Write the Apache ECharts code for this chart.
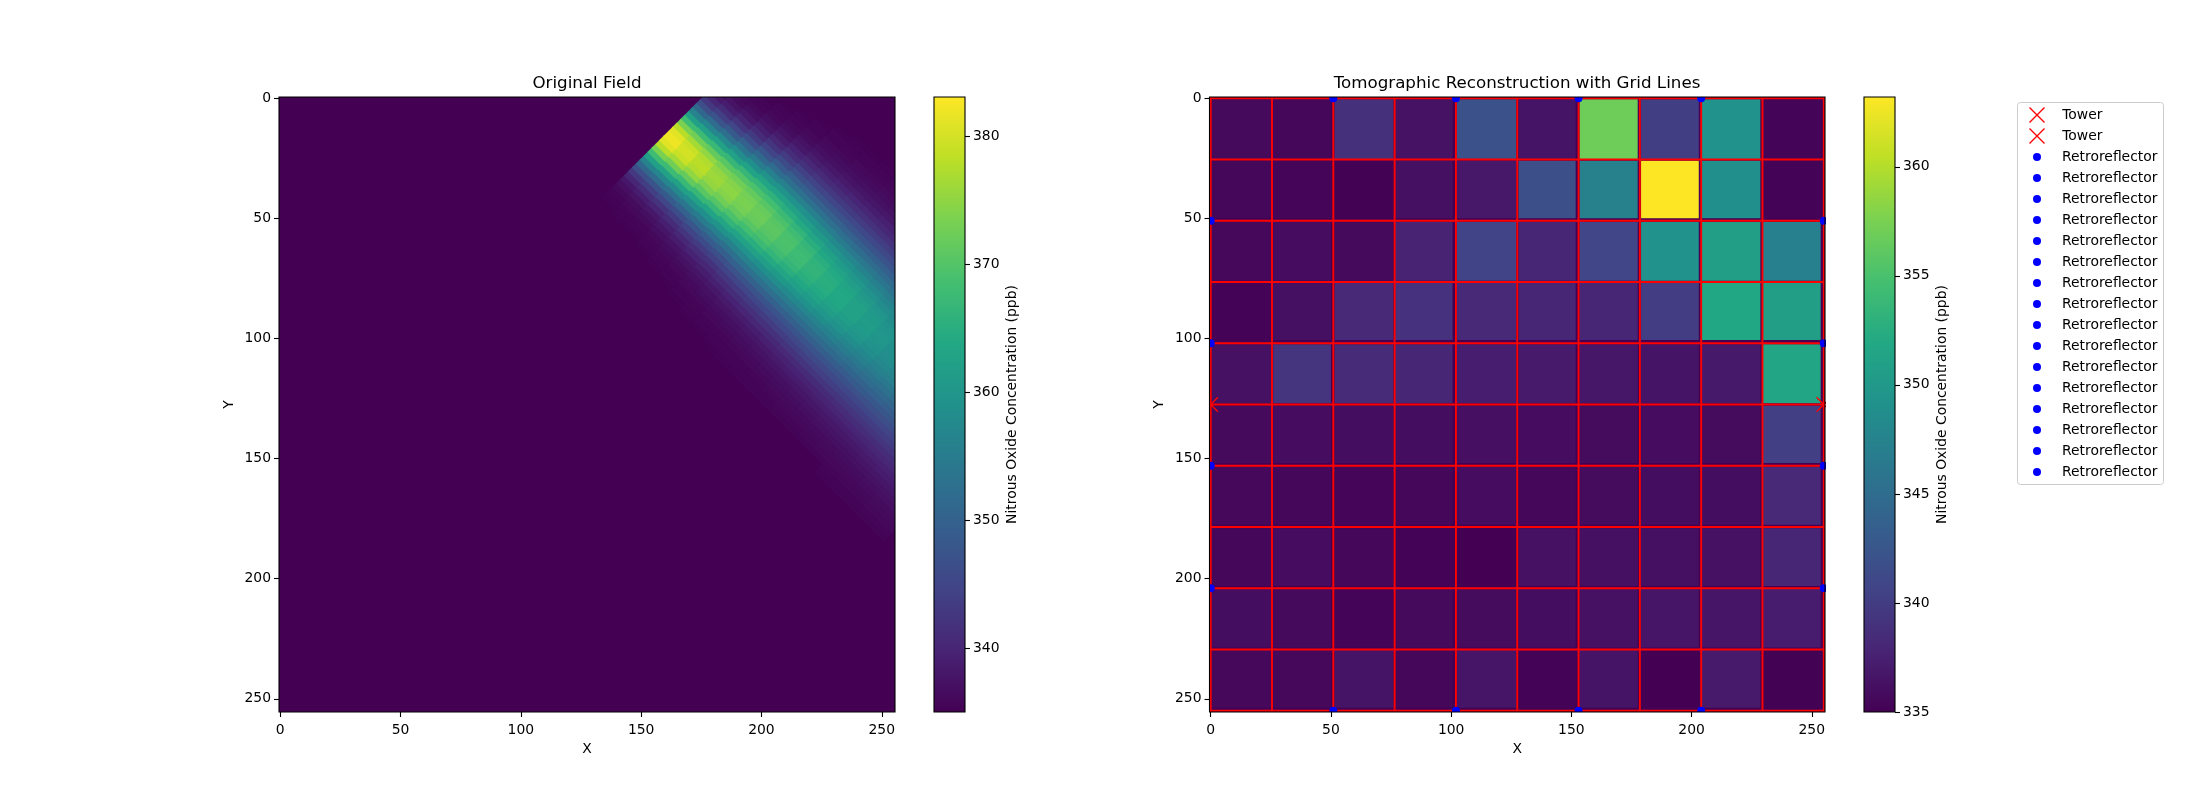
<!DOCTYPE html>
<html>
<head>
<meta charset="utf-8">
<title>Tomographic Reconstruction</title>
<script src="https://cdn.jsdelivr.net/npm/echarts@6/dist/echarts.min.js"></script>
<style>
    html, body { margin: 0; padding: 0; background: #fff; }
    #main { width: 2200px; height: 800px; }
</style>
</head>
<body>
<div id="main"></div>
<script>
// 左图：烟羽读图估计值。每行是一个顺风距离段，行内从羽流中心线向两侧每 plumeStep 个单位一个值
var plumeEdges = [0, 8, 16, 24, 32, 40, 48, 56, 64, 72, 80, 88, 96, 104, 112, 120, 128, 136, 144, 152, 160, 168, 176, 184];
var plumeCenters = [145.7, 146.1, 146.7, 147.5, 148.4, 149.3, 150, 150, 150, 150, 150, 150, 150, 150, 150, 150, 150, 150, 150, 150, 150, 150, 150];
var plumeProfiles = [
    [382, 381, 378, 373.5, 368, 362, 356.2, 350.9, 346.4, 342.8, 340.1, 338.2, 336.9, 336.1, 335.6, 335.3, 335.2],
    [380, 379.1, 376.5, 372.6, 367.7, 362.3, 356.9, 351.9, 347.5, 343.9, 341.1, 339, 337.5, 336.5, 335.9, 335.5, 335.3, 335.2],
    [378.1, 377.3, 375.1, 371.6, 367.2, 362.4, 357.4, 352.7, 348.5, 344.9, 342, 339.8, 338.2, 337, 336.2, 335.7, 335.4, 335.2],
    [376, 375.3, 373.5, 370.5, 366.8, 362.5, 358.1, 353.8, 349.8, 346.3, 343.3, 340.9, 339.1, 337.8, 336.8, 336.1, 335.7, 335.4, 335.2],
    [374.8, 374.2, 372.6, 370.1, 366.8, 362.9, 358.9, 354.9, 351.1, 347.7, 344.7, 342.2, 340.2, 338.7, 337.5, 336.7, 336.1, 335.7, 335.4, 335.2],
    [373.4, 372.9, 371.5, 369.3, 366.4, 363, 359.4, 355.7, 352.1, 348.8, 345.9, 343.4, 341.3, 339.6, 338.2, 337.3, 336.5, 336, 335.6, 335.4, 335.2],
    [372.1, 371.7, 370.4, 368.4, 365.8, 362.7, 359.4, 356, 352.6, 349.4, 346.6, 344.1, 341.9, 340.2, 338.8, 337.7, 336.9, 336.3, 335.9, 335.6, 335.4, 335.2],
    [370.8, 370.4, 369.3, 367.5, 365.1, 362.3, 359.3, 356.1, 352.9, 349.9, 347.1, 344.7, 342.6, 340.8, 339.3, 338.1, 337.2, 336.6, 336.1, 335.7, 335.5, 335.3, 335.2],
    [369.3, 369, 367.9, 366.3, 364.1, 361.6, 358.8, 355.8, 352.8, 350, 347.3, 345, 342.9, 341.1, 339.6, 338.5, 337.5, 336.8, 336.3, 335.9, 335.6, 335.4, 335.2],
    [367.8, 367.5, 366.6, 365.1, 363.1, 360.8, 358.2, 355.4, 352.7, 350, 347.5, 345.2, 343.2, 341.4, 340, 338.7, 337.8, 337, 336.4, 336, 335.7, 335.5, 335.3, 335.2],
    [366.2, 365.9, 365.1, 363.7, 362, 359.8, 357.5, 354.9, 352.4, 349.9, 347.5, 345.3, 343.4, 341.7, 340.2, 339, 338, 337.2, 336.6, 336.2, 335.8, 335.6, 335.4, 335.3],
    [365, 364.7, 364, 362.7, 361.1, 359.1, 356.9, 354.5, 352.1, 349.7, 347.5, 345.4, 343.5, 341.8, 340.4, 339.2, 338.2, 337.4, 336.8, 336.3, 335.9, 335.6, 335.4, 335.3],
    [363.8, 363.6, 362.8, 361.7, 360.2, 358.4, 356.3, 354.2, 351.9, 349.7, 347.5, 345.5, 343.7, 342.1, 340.6, 339.4, 338.4, 337.6, 336.9, 336.4, 336, 335.7, 335.5, 335.4],
    [362.5, 362.3, 361.6, 360.6, 359.2, 357.6, 355.7, 353.7, 351.6, 349.5, 347.5, 345.6, 343.8, 342.2, 340.8, 339.6, 338.6, 337.8, 337.1, 336.6, 336.2, 335.8, 335.6, 335.4],
    [361.3, 361.1, 360.5, 359.6, 358.3, 356.7, 355, 353.1, 351.1, 349.2, 347.3, 345.5, 343.8, 342.3, 340.9, 339.7, 338.7, 337.9, 337.2, 336.7, 336.2, 335.9, 335.7, 335.5],
    [360, 359.8, 359.3, 358.4, 357.2, 355.8, 354.2, 352.4, 350.6, 348.8, 347, 345.3, 343.7, 342.2, 340.9, 339.8, 338.8, 338, 337.3, 336.8, 336.3, 336, 335.7, 335.5],
    [358.8, 358.6, 358.1, 357.3, 356.3, 355, 353.5, 351.9, 350.2, 348.5, 346.8, 345.2, 343.7, 342.3, 341, 339.9, 339, 338.1, 337.5, 336.9, 336.4, 336.1, 335.8, 335.6],
    [357.8, 357.6, 357.2, 356.5, 355.5, 354.3, 352.9, 351.4, 349.8, 348.2, 346.6, 345.1, 343.6, 342.3, 341.1, 340, 339, 338.2, 337.6, 337, 336.5, 336.2, 335.9, 335.6],
    [356.9, 356.8, 356.3, 355.6, 354.7, 353.5, 352.2, 350.8, 349.3, 347.8, 346.4, 344.9, 343.6, 342.3, 341.1, 340.1, 339.1, 338.3, 337.6, 337.1, 336.6, 336.2, 335.9, 335.7, 335.5, 335.3],
    [356, 355.9, 355.5, 354.8, 354, 352.9, 351.7, 350.4, 349, 347.6, 346.2, 344.8, 343.6, 342.3, 341.2, 340.2, 339.3, 338.5, 337.8, 337.2, 336.7, 336.3, 336, 335.8, 335.6, 335.4],
    [355.2, 355.1, 354.7, 354.1, 353.3, 352.3, 351.2, 350, 348.7, 347.4, 346, 344.7, 343.5, 342.3, 341.2, 340.2, 339.3, 338.6, 337.9, 337.3, 336.8, 336.4, 336.1, 335.8, 335.6, 335.5],
    [354.4, 354.3, 354, 353.4, 352.7, 351.8, 350.7, 349.6, 348.4, 347.1, 345.8, 344.6, 343.4, 342.2, 341.2, 340.2, 339.3, 338.6, 338, 337.4, 336.9, 336.5, 336.2, 335.9, 335.7, 335.5],
    [353.6, 353.5, 353.2, 352.7, 352, 351.1, 350.2, 349.1, 348, 346.8, 345.6, 344.4, 343.2, 342.1, 341.1, 340.2, 339.3, 338.6, 338, 337.4, 336.9, 336.5, 336.2, 335.9, 335.7, 335.5]
];

// 右图：10x10 重建结果
var reconRows = [
    [335.7, 335.5, 338.9, 336.4, 342, 336.5, 356.9, 340.1, 349.2, 335.3],
    [335.5, 335.4, 335.1, 336.2, 336.8, 341.8, 347.3, 363.2, 349, 335.2],
    [335.6, 335.9, 335.7, 337.7, 340.6, 338, 340.9, 349.2, 350.7, 347.2],
    [335.2, 336.2, 338.3, 339, 338.3, 338, 338, 340, 351.8, 350.7],
    [336.3, 339.3, 338.4, 338, 337.3, 337, 336.7, 336.5, 336.9, 351.6],
    [335.7, 335.9, 336, 336, 336.1, 335.9, 335.8, 335.9, 335.8, 340.2],
    [335.6, 335.5, 335.4, 335.5, 335.9, 335.5, 335.8, 336, 336, 338.3],
    [335.5, 335.9, 335.5, 335.2, 335, 336.3, 336.2, 336.2, 336.3, 338],
    [336, 335.7, 335.3, 335.7, 335.8, 336, 336.3, 336.6, 336.6, 337.2],
    [335.6, 335.6, 336.5, 335.5, 336.6, 335.2, 336.5, 335, 337, 335.1]
];
var cellStarts = [0.4, 26, 51.5, 76.5, 102.4, 128, 153.4, 179, 204.2, 229.6];
var cellEnds = [25.4, 50, 76, 100.6, 127, 151.8, 177.6, 203, 228.6, 253.7];
var gridLines = [0, 25.5, 51, 76.5, 102, 127.5, 153, 178.5, 204, 229.5, 255];

// 塔和反射器位置
var towerX = [0, 255];
var towerY = [127.5, 127.5];
var retroX = [51, 102, 153, 204, 51, 102, 153, 204, 0, 0, 0, 0, 255, 255, 255, 255];
var retroY = [0, 0, 0, 0, 255, 255, 255, 255, 51, 102, 153, 204, 51, 102, 153, 204];

// 刻度
var axisTicks = [0, 50, 100, 150, 200, 250];
var fieldBarTicks = [340, 350, 360, 370, 380];
var reconBarTicks = [335, 340, 345, 350, 355, 360];
var legendLabels = ['Tower', 'Tower', 'Retroreflector', 'Retroreflector', 'Retroreflector', 'Retroreflector',
    'Retroreflector', 'Retroreflector', 'Retroreflector', 'Retroreflector', 'Retroreflector', 'Retroreflector',
    'Retroreflector', 'Retroreflector', 'Retroreflector', 'Retroreflector', 'Retroreflector', 'Retroreflector'];

var viridis = ['#440154', '#482475', '#414487', '#355f8d', '#2a788e', '#21918c', '#22a884', '#44bf70', '#7ad151', '#bddf26', '#fde725'];
var fontName = '"DejaVu Sans"';
var imgMin = -0.5;
var imgMax = 255.5;
var fieldRange = [335, 383.1];
var reconRange = [335, 363.2];
var crossPath = 'path://M0 0L10 10M10 0L0 10';
var plumeStep = 2.3;
var plumeSource = 175;  // 源线 x + y
var plumeOverlap = 0.6; // 相邻格子压一点，免得露出底色的缝

// 从两侧往中心画，顺风方向从近到远，后画的压住先画的
var fieldData = [];
for (var c = 25; c >= 0; c--) {
    for (var r = 0; r < plumeProfiles.length; r++) {
        if (c < plumeProfiles[r].length) {
            fieldData.push([r, c, plumeProfiles[r][c]]);
            if (c > 0) {
                fieldData.push([r, -c, plumeProfiles[r][c]]);
            }
        }
    }
}
var reconData = [];
for (var m = 0; m < reconRows.length; m++) {
    for (var n = 0; n < reconRows[m].length; n++) {
        reconData.push([n, m, reconRows[m][n]]);
    }
}

// 顺风/横风距离转成数据坐标
function plumePoint(api, center, s, w) {
    var u = plumeSource + s * Math.SQRT2;
    var v = center + w * Math.SQRT2;
    return api.coord([(u + v) / 2, (u - v) / 2]);
}

function renderPlumeCell(params, api) {
    var k = api.value(0);
    var offset = api.value(1);
    var w0 = (offset - 0.5) * plumeStep;
    var w1 = (offset + 0.5) * plumeStep;
    if (offset >= 0) {
        w1 += plumeOverlap;
    }
    if (offset <= 0) {
        w0 -= plumeOverlap;
    }
    var s0 = k > 0 ? plumeEdges[k] - plumeOverlap : plumeEdges[k];
    var s1 = plumeEdges[k + 1];
    var center = plumeCenters[k];
    return {
        type: 'polygon',
        shape: {
            points: [
                plumePoint(api, center, s0, w0),
                plumePoint(api, center, s1, w0),
                plumePoint(api, center, s1, w1),
                plumePoint(api, center, s0, w1)
            ]
        },
        style: {fill: api.visual('color')}
    };
}

function renderReconCell(params, api) {
    var col = api.value(0);
    var row = api.value(1);
    var p0 = api.coord([cellStarts[col], cellStarts[row]]);
    var p1 = api.coord([cellEnds[col], cellEnds[row]]);
    return {
        type: 'rect',
        shape: {x: p0[0], y: p0[1], width: p1[0] - p0[0], height: p1[1] - p0[1]},
        style: {fill: api.visual('color')}
    };
}

function frameSeries(axisIndex, x0, y0, x1, y1) {
    return {
        type: 'custom',
        xAxisIndex: axisIndex,
        yAxisIndex: axisIndex,
        silent: true,
        z: 20,
        clip: false,
        data: [[x0, y0, x1, y1]],
        encode: {x: [0, 2], y: [1, 3]},
        renderItem: function (params, api) {
            var p0 = api.coord([api.value(0), api.value(1)]);
            var p1 = api.coord([api.value(2), api.value(3)]);
            return {
                type: 'rect',
                shape: {x: p0[0], y: p0[1], width: p1[0] - p0[0], height: p1[1] - p0[1]},
                style: {fill: 'none', stroke: '#000', lineWidth: 1.1}
            };
        }
    };
}

function colorBarSeries(axisIndex, range) {
    var stops = [];
    for (var i = 0; i < viridis.length; i++) {
        stops.push({offset: i / (viridis.length - 1), color: viridis[i]});
    }
    return {
        type: 'custom',
        xAxisIndex: axisIndex,
        yAxisIndex: axisIndex,
        silent: true,
        data: [[0, range[0], 1, range[1]]],
        encode: {x: [0, 2], y: [1, 3]},
        renderItem: function (params, api) {
            var p0 = api.coord([api.value(0), api.value(3)]);
            var p1 = api.coord([api.value(2), api.value(1)]);
            return {
                type: 'rect',
                shape: {x: p0[0], y: p0[1], width: p1[0] - p0[0], height: p1[1] - p0[1]},
                style: {fill: new echarts.graphic.LinearGradient(0, 1, 0, 0, stops)}
            };
        }
    };
}

function gridLineSeries(axisIndex, vertical) {
    var data = [];
    for (var i = 0; i < gridLines.length; i++) {
        data.push([gridLines[i], i]);
    }
    return {
        type: 'custom',
        xAxisIndex: axisIndex,
        yAxisIndex: axisIndex,
        silent: true,
        clip: true,
        z: 5,
        data: data,
        encode: vertical ? {x: 0} : {y: 0},
        renderItem: function (params, api) {
            var v = api.value(0);
            var p0 = vertical ? api.coord([v, imgMin]) : api.coord([imgMin, v]);
            var p1 = vertical ? api.coord([v, imgMax]) : api.coord([imgMax, v]);
            return {
                type: 'line',
                shape: {x1: p0[0], y1: p0[1], x2: p1[0], y2: p1[1]},
                style: {stroke: '#ff0000', lineWidth: 1.9}
            };
        }
    };
}

function zip(xs, ys) {
    var out = [];
    for (var i = 0; i < xs.length; i++) {
        out.push([xs[i], ys[i]]);
    }
    return out;
}

// scatter 的 clip 不裁符号本身，图内的标记用 custom 画，半个点才会被坐标框切掉
function renderTower(params, api) {
    var p = api.coord([api.value(0), api.value(1)]);
    var r = 7.2;
    return {
        type: 'group',
        children: [
            {type: 'line', shape: {x1: p[0] - r, y1: p[1] - r, x2: p[0] + r, y2: p[1] + r}, style: {stroke: '#ff0000', lineWidth: 1.4}},
            {type: 'line', shape: {x1: p[0] - r, y1: p[1] + r, x2: p[0] + r, y2: p[1] - r}, style: {stroke: '#ff0000', lineWidth: 1.4}}
        ]
    };
}

function renderRetro(params, api) {
    var p = api.coord([api.value(0), api.value(1)]);
    return {
        type: 'circle',
        shape: {cx: p[0], cy: p[1], r: 4},
        style: {fill: '#0000ff'}
    };
}

function imageXAxis(gridIndex) {
    return {
        type: 'value', gridIndex: gridIndex, min: imgMin, max: imgMax,
        name: 'X', nameLocation: 'middle', nameGap: 29,
        nameTextStyle: {color: '#000', fontFamily: fontName, fontSize: 13.9},
        axisLine: {show: false, onZero: false},
        axisTick: {show: true, length: 5, customValues: axisTicks, lineStyle: {color: '#000', width: 1.1}},
        axisLabel: {color: '#000', fontFamily: fontName, fontSize: 13.9, margin: 11, customValues: axisTicks},
        splitLine: {show: false}
    };
}

function imageYAxis(gridIndex) {
    return {
        type: 'value', gridIndex: gridIndex, min: imgMin, max: imgMax, inverse: true,
        name: 'Y', nameLocation: 'middle', nameGap: 43, nameRotate: 90,
        nameTextStyle: {color: '#000', fontFamily: fontName, fontSize: 13.9},
        axisLine: {show: false, onZero: false},
        axisTick: {show: true, length: 5, customValues: axisTicks, lineStyle: {color: '#000', width: 1.1}},
        axisLabel: {color: '#000', fontFamily: fontName, fontSize: 13.9, margin: 8, customValues: axisTicks},
        splitLine: {show: false}
    };
}

function barXAxis(gridIndex) {
    return {type: 'value', gridIndex: gridIndex, min: 0, max: 1, show: false};
}

function barYAxis(gridIndex, range, ticks) {
    return {
        type: 'value', gridIndex: gridIndex, min: range[0], max: range[1], position: 'right',
        name: 'Nitrous Oxide Concentration (ppb)', nameLocation: 'middle', nameGap: 40, nameRotate: 90,
        nameTextStyle: {color: '#000', fontFamily: fontName, fontSize: 13.9},
        axisLine: {show: false, onZero: false},
        axisTick: {show: true, length: 5, customValues: ticks, lineStyle: {color: '#000', width: 1.1}},
        axisLabel: {color: '#000', fontFamily: fontName, fontSize: 13.9, margin: 8, customValues: ticks},
        splitLine: {show: false}
    };
}

// 图例：同名条目 legend 组件会合并，所以用一个小坐标系画
var towerLegend = [];
var retroLegend = [];
for (var k = 0; k < legendLabels.length; k++) {
    if (legendLabels[k] === 'Tower') {
        towerLegend.push([19, k]);
    } else {
        retroLegend.push([19, k]);
    }
}

var chart = echarts.init(document.getElementById('main'));
var option = {
    animation: false,
    backgroundColor: '#fff',
    textStyle: {fontFamily: fontName},
    title: [
        {text: 'Original Field', left: 587, top: 75, padding: 0, textAlign: 'center',
            textStyle: {color: '#000', fontFamily: fontName, fontSize: 16.7, fontWeight: 'normal'}},
        {text: 'Tomographic Reconstruction with Grid Lines', left: 1517, top: 75, padding: 0, textAlign: 'center',
            textStyle: {color: '#000', fontFamily: fontName, fontSize: 16.7, fontWeight: 'normal'}}
    ],
    grid: [
        {left: 279, top: 97, width: 616, height: 615, show: true, backgroundColor: viridis[0], borderWidth: 0},
        {left: 934, top: 97, width: 31, height: 615},
        {left: 1209.5, top: 97, width: 615.5, height: 615, show: true, backgroundColor: viridis[0], borderWidth: 0},
        {left: 1864, top: 97, width: 31, height: 615},
        {left: 2018, top: 104.5, width: 145, height: 378}
    ],
    xAxis: [
        imageXAxis(0),
        barXAxis(1),
        imageXAxis(2),
        barXAxis(3),
        {type: 'value', gridIndex: 4, min: 0, max: 145, show: false}
    ],
    yAxis: [
        imageYAxis(0),
        barYAxis(1, fieldRange, fieldBarTicks),
        imageYAxis(2),
        barYAxis(3, reconRange, reconBarTicks),
        {type: 'category', gridIndex: 4, show: false, inverse: true, data: legendLabels.map(function (v, i) { return i; })}
    ],
    visualMap: [
        {show: false, seriesIndex: 0, dimension: 2, min: fieldRange[0], max: fieldRange[1], inRange: {color: viridis}},
        {show: false, seriesIndex: 1, dimension: 2, min: reconRange[0], max: reconRange[1], inRange: {color: viridis}}
    ],
    graphic: [{
        type: 'rect', z: 0, silent: true,
        shape: {x: 2017.5, y: 102.5, width: 146, height: 382, r: 3},
        style: {fill: '#fff', stroke: '#ccc', lineWidth: 1}
    }],
    series: [
        {
            type: 'custom', xAxisIndex: 0, yAxisIndex: 0, silent: true, clip: true,
            data: fieldData, dimensions: ['station', 'offset', 'value'],
            renderItem: renderPlumeCell
        },
        {
            type: 'custom', xAxisIndex: 2, yAxisIndex: 2, silent: true, clip: true,
            data: reconData, dimensions: ['col', 'row', 'value'],
            renderItem: renderReconCell
        },
        frameSeries(0, imgMin, imgMin, imgMax, imgMax),
        colorBarSeries(1, fieldRange),
        frameSeries(1, 0, fieldRange[0], 1, fieldRange[1]),
        gridLineSeries(2, true),
        gridLineSeries(2, false),
        {
            type: 'custom', name: 'Tower', xAxisIndex: 2, yAxisIndex: 2, clip: true, z: 6, silent: true,
            data: zip(towerX, towerY), encode: {x: 0, y: 1},
            renderItem: renderTower
        },
        {
            type: 'custom', name: 'Retroreflector', xAxisIndex: 2, yAxisIndex: 2, clip: true, z: 7, silent: true,
            data: zip(retroX, retroY), encode: {x: 0, y: 1},
            renderItem: renderRetro
        },
        frameSeries(2, imgMin, imgMin, imgMax, imgMax),
        colorBarSeries(3, reconRange),
        frameSeries(3, 0, reconRange[0], 1, reconRange[1]),
        {
            type: 'scatter', name: 'Tower', xAxisIndex: 4, yAxisIndex: 4, silent: true, z: 8,
            symbol: crossPath, symbolSize: 15,
            itemStyle: {color: '#ff0000', borderColor: '#ff0000', borderWidth: 1.4, opacity: 1},
            label: {show: true, position: 'right', distance: 17, color: '#000', fontFamily: fontName, fontSize: 13.9,
                formatter: function (p) { return legendLabels[p.value[1]]; }},
            data: towerLegend
        },
        {
            type: 'scatter', name: 'Retroreflector', xAxisIndex: 4, yAxisIndex: 4, silent: true, z: 8,
            symbol: 'circle', symbolSize: 8,
            itemStyle: {color: '#0000ff', opacity: 1},
            label: {show: true, position: 'right', distance: 21, color: '#000', fontFamily: fontName, fontSize: 13.9,
                formatter: function (p) { return legendLabels[p.value[1]]; }},
            data: retroLegend
        }
    ]
};
chart.setOption(option);
</script>
</body>
</html>
